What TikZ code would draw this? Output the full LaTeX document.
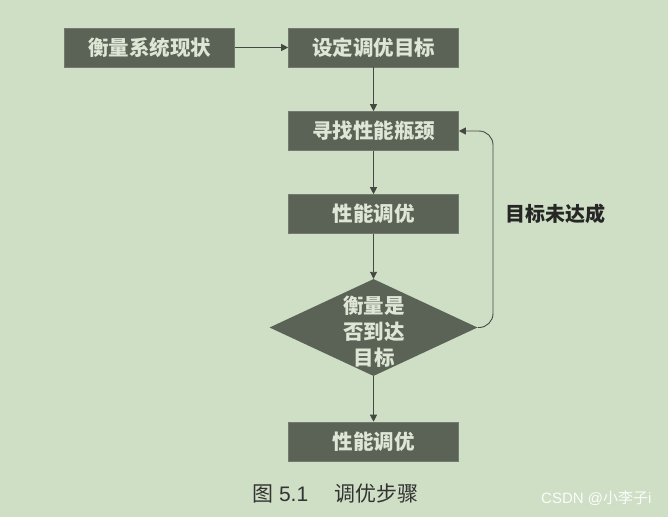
\documentclass[tikz,border=0pt]{standalone}
\usepackage{fontspec}
\setmainfont{Liberation Sans}
\newfontfamily\cjk{Noto Sans CJK SC}
\usetikzlibrary{arrows.meta,shapes.geometric}
\definecolor{bg}{RGB}{207,223,197}
\definecolor{boxfill}{RGB}{91,99,87}
\definecolor{boxtext}{RGB}{222,230,214}
\definecolor{linec}{RGB}{70,72,68}
\tikzset{
  stepbox/.style={rectangle, fill=boxfill, draw=boxfill!85!white, line width=0.6pt,
    minimum width=170pt, minimum height=39pt, inner sep=0pt,
    text=boxtext, font=\cjk\bfseries\fontsize{20.5}{22}\selectfont},
  decision/.style={diamond, fill=boxfill, minimum width=208pt, minimum height=97pt,
    inner sep=0pt, aspect=2.14},
  flow/.style={draw=linec, line width=0.9pt, -{Triangle[length=7pt,width=7pt]}},
}
\begin{document}
\begin{tikzpicture}[x=1pt,y=-1pt]
\fill[bg] (0,0) rectangle (668,517);
\useasboundingbox (0,0) rectangle (668,517);
\node[stepbox] (measure) at (149.5,47.5) {衡量系统现状};
\node[stepbox] (goal) at (373.5,47.5) {设定调优目标};
\node[stepbox] (find) at (373.5,131) {寻找性能瓶颈};
\node[stepbox] (tune) at (373.5,214) {性能调优};
\node[decision] (check) at (373.5,327.5) {};
\node[text=boxtext, font=\cjk\bfseries\fontsize{20.5}{26}\selectfont, align=center] (checktext) at (374,332) {衡量是\\否到达\\目标};
\node[stepbox] (final) at (373.5,441.5) {性能调优};
\coordinate (fbx) at (493,0);
\draw[flow] (measure) -- (goal);
\draw[flow] (goal) -- (find);
\draw[flow] (find) -- (tune);
\draw[flow] (tune) -- (check.north);
\draw[flow] (check.south) -- (final);
\draw[flow, rounded corners=14pt] (check.east) -- (check.east -| fbx) -- (find.east -| fbx) -- (find.east);
\node[font=\cjk\bfseries\fontsize{20}{22}\selectfont, text=black!85] (notmet) at (555,214) {目标未达成};
\node[anchor=west, font=\fontsize{21}{23}\selectfont, text=black!80, inner sep=0pt] (caption) at (252,494) {{\cjk 图} 5.1\hspace{26pt}{\cjk 调优步骤}};
\node[anchor=west, font=\fontsize{15}{17}\selectfont, text=white!92!bg, inner sep=0pt] (mark) at (541,498) {CSDN @{\cjk 小李子}i};
\end{tikzpicture}
\end{document}
